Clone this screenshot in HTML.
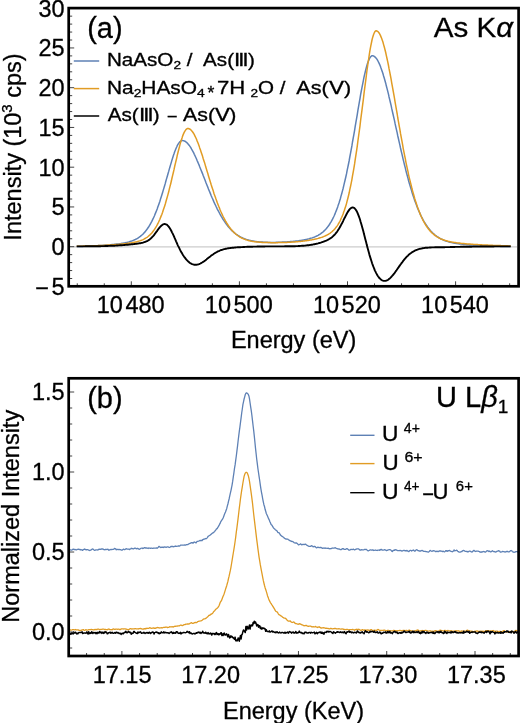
<!DOCTYPE html><html><head><meta charset="utf-8"><style>html,body{margin:0;padding:0;background:#fff;}svg{display:block;}text{font-family:"Liberation Sans",Arial,sans-serif;fill:#000;stroke:#000;stroke-width:0.3px;}</style></head><body>
<svg width="520" height="723" viewBox="0 0 520 723">
<rect width="520" height="723" fill="#fff"/>
<defs><clipPath id="ca"><rect x="68.7" y="8.1" width="449.9" height="278.2"/></clipPath>
<clipPath id="cb"><rect x="68.7" y="378.3" width="449.9" height="277.7"/></clipPath></defs>
<line x1="70" y1="246.8" x2="517" y2="246.8" stroke="#cccccc" stroke-width="1.3"/>
<g clip-path="url(#ca)" fill="none" stroke-width="1.5" stroke-linejoin="round">
<path d="M76.7 246.6L77.4 246.5L78.1 246.5L78.7 246.5L79.4 246.5L80.1 246.5L80.8 246.4L81.4 246.4L82.1 246.4L82.8 246.4L83.5 246.3L84.1 246.3L84.8 246.3L85.5 246.3L86.2 246.2L86.9 246.2L87.5 246.2L88.2 246.1L88.9 246.1L89.6 246.1L90.2 246.1L90.9 246.0L91.6 246.0L92.3 246.0L92.9 245.9L93.6 245.9L94.3 245.9L95.0 245.8L95.6 245.8L96.3 245.7L97.0 245.7L97.7 245.7L98.3 245.6L99.0 245.6L99.7 245.6L100.4 245.5L101.0 245.5L101.7 245.4L102.4 245.4L103.1 245.3L103.8 245.3L104.4 245.2L105.1 245.2L105.8 245.1L106.5 245.1L107.1 245.0L107.8 245.0L108.5 244.9L109.2 244.9L109.8 244.8L110.5 244.7L111.2 244.7L111.9 244.6L112.5 244.6L113.2 244.5L113.9 244.4L114.6 244.3L115.2 244.3L115.9 244.2L116.6 244.1L117.3 244.0L117.9 243.9L118.6 243.9L119.3 243.8L120.0 243.7L120.7 243.6L121.3 243.5L122.0 243.3L122.7 243.2L123.4 243.1L124.0 243.0L124.7 242.9L125.4 242.7L126.1 242.6L126.7 242.4L127.4 242.3L128.1 242.1L128.8 241.9L129.4 241.7L130.1 241.5L130.8 241.3L131.5 241.1L132.1 240.8L132.8 240.6L133.5 240.3L134.2 240.0L134.8 239.7L135.5 239.4L136.2 239.0L136.9 238.7L137.6 238.3L138.2 237.8L138.9 237.4L139.6 236.9L140.3 236.4L140.9 235.9L141.6 235.3L142.3 234.7L143.0 234.1L143.6 233.4L144.3 232.6L145.0 231.9L145.7 231.1L146.3 230.2L147.0 229.3L147.7 228.3L148.4 227.3L149.0 226.3L149.7 225.1L150.4 224.0L151.1 222.7L151.8 221.4L152.4 220.1L153.1 218.7L153.8 217.2L154.5 215.7L155.1 214.1L155.8 212.4L156.5 210.7L157.2 208.9L157.8 207.1L158.5 205.2L159.2 203.2L159.9 201.2L160.5 199.1L161.2 197.0L161.9 194.8L162.6 192.6L163.2 190.4L163.9 188.1L164.6 185.7L165.3 183.4L165.9 181.0L166.6 178.6L167.3 176.2L168.0 173.8L168.7 171.4L169.3 169.1L170.0 166.7L170.7 164.4L171.4 162.1L172.0 159.9L172.7 157.7L173.4 155.6L174.1 153.6L174.7 151.7L175.4 150.0L176.1 148.3L176.8 146.8L177.4 145.4L178.1 144.1L178.8 143.1L179.5 142.2L180.1 141.5L180.8 141.0L181.5 140.7L182.2 140.5L182.8 140.6L183.5 140.7L184.2 140.9L184.9 141.2L185.6 141.7L186.2 142.2L186.9 142.7L187.6 143.4L188.3 144.2L188.9 145.0L189.6 145.9L190.3 146.9L191.0 148.0L191.6 149.2L192.3 150.4L193.0 151.6L193.7 152.9L194.3 154.3L195.0 155.7L195.7 157.2L196.4 158.7L197.0 160.3L197.7 161.9L198.4 163.5L199.1 165.1L199.7 166.8L200.4 168.5L201.1 170.2L201.8 171.9L202.5 173.6L203.1 175.3L203.8 177.1L204.5 178.8L205.2 180.5L205.8 182.3L206.5 184.0L207.2 185.7L207.9 187.4L208.5 189.1L209.2 190.8L209.9 192.4L210.6 194.1L211.2 195.7L211.9 197.3L212.6 198.8L213.3 200.4L213.9 201.9L214.6 203.4L215.3 204.8L216.0 206.3L216.7 207.7L217.3 209.1L218.0 210.4L218.7 211.7L219.4 213.0L220.0 214.2L220.7 215.4L221.4 216.6L222.1 217.7L222.7 218.8L223.4 219.9L224.1 220.9L224.8 221.9L225.4 222.9L226.1 223.8L226.8 224.7L227.5 225.6L228.1 226.5L228.8 227.3L229.5 228.0L230.2 228.8L230.8 229.5L231.5 230.2L232.2 230.9L232.9 231.5L233.6 232.1L234.2 232.7L234.9 233.2L235.6 233.8L236.3 234.3L236.9 234.7L237.6 235.2L238.3 235.6L239.0 236.0L239.6 236.4L240.3 236.8L241.0 237.2L241.7 237.5L242.3 237.8L243.0 238.1L243.7 238.4L244.4 238.7L245.0 238.9L245.7 239.2L246.4 239.4L247.1 239.6L247.7 239.8L248.4 240.0L249.1 240.2L249.8 240.4L250.5 240.5L251.1 240.7L251.8 240.8L252.5 241.0L253.2 241.1L253.8 241.2L254.5 241.3L255.2 241.4L255.9 241.5L256.5 241.6L257.2 241.7L257.9 241.8L258.6 241.8L259.2 241.9L259.9 241.9L260.6 242.0L261.3 242.1L261.9 242.1L262.6 242.1L263.3 242.2L264.0 242.2L264.7 242.2L265.3 242.3L266.0 242.3L266.7 242.3L267.4 242.3L268.0 242.4L268.7 242.4L269.4 242.4L270.1 242.4L270.7 242.4L271.4 242.4L272.1 242.4L272.8 242.4L273.4 242.4L274.1 242.4L274.8 242.4L275.5 242.4L276.1 242.3L276.8 242.3L277.5 242.3L278.2 242.3L278.8 242.3L279.5 242.3L280.2 242.2L280.9 242.2L281.6 242.2L282.2 242.1L282.9 242.1L283.6 242.1L284.3 242.0L284.9 242.0L285.6 242.0L286.3 241.9L287.0 241.9L287.6 241.8L288.3 241.8L289.0 241.7L289.7 241.7L290.3 241.6L291.0 241.6L291.7 241.5L292.4 241.4L293.0 241.4L293.7 241.3L294.4 241.2L295.1 241.2L295.7 241.1L296.4 241.0L297.1 240.9L297.8 240.9L298.5 240.8L299.1 240.7L299.8 240.6L300.5 240.5L301.2 240.4L301.8 240.3L302.5 240.2L303.2 240.0L303.9 239.9L304.5 239.8L305.2 239.7L305.9 239.5L306.6 239.4L307.2 239.2L307.9 239.1L308.6 238.9L309.3 238.7L309.9 238.5L310.6 238.3L311.3 238.1L312.0 237.9L312.6 237.7L313.3 237.4L314.0 237.2L314.7 236.9L315.4 236.6L316.0 236.3L316.7 236.0L317.4 235.7L318.1 235.3L318.7 234.9L319.4 234.5L320.1 234.1L320.8 233.6L321.4 233.1L322.1 232.6L322.8 232.1L323.5 231.5L324.1 230.9L324.8 230.2L325.5 229.5L326.2 228.8L326.8 228.0L327.5 227.1L328.2 226.2L328.9 225.3L329.6 224.3L330.2 223.2L330.9 222.1L331.6 220.9L332.3 219.7L332.9 218.4L333.6 217.0L334.3 215.5L335.0 213.9L335.6 212.3L336.3 210.6L337.0 208.8L337.7 206.9L338.3 204.9L339.0 202.9L339.7 200.7L340.4 198.5L341.0 196.1L341.7 193.7L342.4 191.1L343.1 188.5L343.7 185.8L344.4 182.9L345.1 180.0L345.8 177.0L346.5 173.9L347.1 170.7L347.8 167.4L348.5 164.0L349.2 160.5L349.8 157.0L350.5 153.3L351.2 149.6L351.9 145.9L352.5 142.0L353.2 138.2L353.9 134.3L354.6 130.3L355.2 126.3L355.9 122.3L356.6 118.3L357.3 114.3L357.9 110.3L358.6 106.3L359.3 102.4L360.0 98.5L360.6 94.7L361.3 91.0L362.0 87.3L362.7 83.8L363.4 80.4L364.0 77.2L364.7 74.1L365.4 71.2L366.1 68.5L366.7 66.1L367.4 63.8L368.1 61.8L368.8 60.1L369.4 58.6L370.1 57.5L370.8 56.6L371.5 56.0L372.1 55.7L372.8 55.8L373.5 55.9L374.2 56.3L374.8 56.8L375.5 57.4L376.2 58.2L376.9 59.1L377.5 60.2L378.2 61.5L378.9 62.9L379.6 64.4L380.3 66.0L380.9 67.8L381.6 69.7L382.3 71.7L383.0 73.8L383.6 76.0L384.3 78.3L385.0 80.7L385.7 83.2L386.3 85.8L387.0 88.4L387.7 91.1L388.4 93.9L389.0 96.7L389.7 99.6L390.4 102.5L391.1 105.4L391.7 108.4L392.4 111.5L393.1 114.5L393.8 117.6L394.5 120.6L395.1 123.7L395.8 126.8L396.5 129.9L397.2 132.9L397.8 136.0L398.5 139.0L399.2 142.1L399.9 145.1L400.5 148.0L401.2 151.0L401.9 153.9L402.6 156.8L403.2 159.6L403.9 162.4L404.6 165.2L405.3 167.9L405.9 170.6L406.6 173.2L407.3 175.8L408.0 178.3L408.6 180.8L409.3 183.2L410.0 185.5L410.7 187.8L411.4 190.1L412.0 192.3L412.7 194.4L413.4 196.5L414.1 198.5L414.7 200.4L415.4 202.3L416.1 204.1L416.8 205.9L417.4 207.6L418.1 209.3L418.8 210.9L419.5 212.4L420.1 213.9L420.8 215.4L421.5 216.8L422.2 218.1L422.8 219.4L423.5 220.6L424.2 221.8L424.9 222.9L425.5 224.0L426.2 225.0L426.9 226.0L427.6 227.0L428.3 227.9L428.9 228.8L429.6 229.6L430.3 230.4L431.0 231.2L431.6 231.9L432.3 232.6L433.0 233.2L433.7 233.8L434.3 234.4L435.0 235.0L435.7 235.5L436.4 236.0L437.0 236.5L437.7 237.0L438.4 237.4L439.1 237.8L439.7 238.2L440.4 238.6L441.1 239.0L441.8 239.3L442.5 239.6L443.1 239.9L443.8 240.2L444.5 240.5L445.2 240.7L445.8 241.0L446.5 241.2L447.2 241.4L447.9 241.6L448.5 241.8L449.2 242.0L449.9 242.2L450.6 242.3L451.2 242.5L451.9 242.6L452.6 242.8L453.3 242.9L453.9 243.1L454.6 243.2L455.3 243.3L456.0 243.4L456.6 243.5L457.3 243.6L458.0 243.7L458.7 243.8L459.4 243.9L460.0 244.0L460.7 244.1L461.4 244.1L462.1 244.2L462.7 244.3L463.4 244.4L464.1 244.4L464.8 244.5L465.4 244.6L466.1 244.6L466.8 244.7L467.5 244.7L468.1 244.8L468.8 244.8L469.5 244.9L470.2 244.9L470.8 245.0L471.5 245.0L472.2 245.1L472.9 245.1L473.5 245.2L474.2 245.2L474.9 245.3L475.6 245.3L476.3 245.3L476.9 245.4L477.6 245.4L478.3 245.4L479.0 245.5L479.6 245.5L480.3 245.6L481.0 245.6L481.7 245.6L482.3 245.7L483.0 245.7L483.7 245.7L484.4 245.7L485.0 245.8L485.7 245.8L486.4 245.8L487.1 245.9L487.7 245.9L488.4 245.9L489.1 246.0L489.8 246.0L490.4 246.0L491.1 246.0L491.8 246.1L492.5 246.1L493.2 246.1L493.8 246.1L494.5 246.2L495.2 246.2L495.9 246.2L496.5 246.2L497.2 246.2L497.9 246.3L498.6 246.3L499.2 246.3L499.9 246.3L500.6 246.4L501.3 246.4L501.9 246.4L502.6 246.4L503.3 246.4L504.0 246.5L504.6 246.5L505.3 246.5L506.0 246.5L506.7 246.5L507.4 246.5L508.0 246.6L508.7 246.6L509.4 246.6L510.1 246.6L510.7 246.6" stroke="#5E81B5"/>
<path d="M76.7 246.3L77.4 246.3L78.1 246.3L78.7 246.3L79.4 246.3L80.1 246.2L80.8 246.2L81.4 246.2L82.1 246.2L82.8 246.2L83.5 246.1L84.1 246.1L84.8 246.1L85.5 246.1L86.2 246.1L86.9 246.0L87.5 246.0L88.2 246.0L88.9 246.0L89.6 246.0L90.2 245.9L90.9 245.9L91.6 245.9L92.3 245.9L92.9 245.8L93.6 245.8L94.3 245.8L95.0 245.8L95.6 245.7L96.3 245.7L97.0 245.7L97.7 245.7L98.3 245.6L99.0 245.6L99.7 245.6L100.4 245.5L101.0 245.5L101.7 245.5L102.4 245.4L103.1 245.4L103.8 245.4L104.4 245.3L105.1 245.3L105.8 245.3L106.5 245.2L107.1 245.2L107.8 245.1L108.5 245.1L109.2 245.1L109.8 245.0L110.5 245.0L111.2 244.9L111.9 244.9L112.5 244.8L113.2 244.8L113.9 244.8L114.6 244.7L115.2 244.6L115.9 244.6L116.6 244.5L117.3 244.5L117.9 244.4L118.6 244.4L119.3 244.3L120.0 244.3L120.7 244.2L121.3 244.1L122.0 244.1L122.7 244.0L123.4 243.9L124.0 243.8L124.7 243.8L125.4 243.7L126.1 243.6L126.7 243.5L127.4 243.4L128.1 243.3L128.8 243.2L129.4 243.1L130.1 243.0L130.8 242.9L131.5 242.8L132.1 242.7L132.8 242.6L133.5 242.5L134.2 242.3L134.8 242.2L135.5 242.0L136.2 241.9L136.9 241.7L137.6 241.5L138.2 241.3L138.9 241.1L139.6 240.9L140.3 240.7L140.9 240.4L141.6 240.2L142.3 239.9L143.0 239.6L143.6 239.3L144.3 238.9L145.0 238.5L145.7 238.1L146.3 237.7L147.0 237.3L147.7 236.8L148.4 236.2L149.0 235.7L149.7 235.1L150.4 234.4L151.1 233.7L151.8 233.0L152.4 232.2L153.1 231.3L153.8 230.4L154.5 229.5L155.1 228.4L155.8 227.3L156.5 226.2L157.2 224.9L157.8 223.6L158.5 222.3L159.2 220.8L159.9 219.3L160.5 217.6L161.2 215.9L161.9 214.2L162.6 212.3L163.2 210.3L163.9 208.3L164.6 206.2L165.3 204.0L165.9 201.7L166.6 199.3L167.3 196.9L168.0 194.4L168.7 191.8L169.3 189.1L170.0 186.4L170.7 183.7L171.4 180.8L172.0 178.0L172.7 175.1L173.4 172.2L174.1 169.2L174.7 166.3L175.4 163.4L176.1 160.5L176.8 157.6L177.4 154.7L178.1 152.0L178.8 149.3L179.5 146.6L180.1 144.1L180.8 141.8L181.5 139.5L182.2 137.5L182.8 135.6L183.5 133.9L184.2 132.4L184.9 131.1L185.6 130.1L186.2 129.3L186.9 128.8L187.6 128.5L188.3 128.5L188.9 128.7L189.6 129.0L190.3 129.4L191.0 130.0L191.6 130.7L192.3 131.5L193.0 132.5L193.7 133.5L194.3 134.7L195.0 136.1L195.7 137.5L196.4 139.0L197.0 140.6L197.7 142.3L198.4 144.1L199.1 145.9L199.7 147.9L200.4 149.8L201.1 151.9L201.8 154.0L202.5 156.1L203.1 158.2L203.8 160.4L204.5 162.6L205.2 164.9L205.8 167.1L206.5 169.3L207.2 171.6L207.9 173.8L208.5 176.1L209.2 178.3L209.9 180.5L210.6 182.7L211.2 184.8L211.9 187.0L212.6 189.1L213.3 191.1L213.9 193.2L214.6 195.2L215.3 197.1L216.0 199.1L216.7 200.9L217.3 202.8L218.0 204.5L218.7 206.3L219.4 207.9L220.0 209.6L220.7 211.2L221.4 212.7L222.1 214.2L222.7 215.6L223.4 217.0L224.1 218.3L224.8 219.6L225.4 220.8L226.1 222.0L226.8 223.2L227.5 224.2L228.1 225.3L228.8 226.3L229.5 227.2L230.2 228.1L230.8 229.0L231.5 229.8L232.2 230.6L232.9 231.3L233.6 232.0L234.2 232.7L234.9 233.3L235.6 233.9L236.3 234.5L236.9 235.0L237.6 235.5L238.3 236.0L239.0 236.5L239.6 236.9L240.3 237.3L241.0 237.6L241.7 238.0L242.3 238.3L243.0 238.6L243.7 238.9L244.4 239.2L245.0 239.4L245.7 239.7L246.4 239.9L247.1 240.1L247.7 240.3L248.4 240.5L249.1 240.7L249.8 240.8L250.5 241.0L251.1 241.1L251.8 241.2L252.5 241.4L253.2 241.5L253.8 241.6L254.5 241.7L255.2 241.8L255.9 241.8L256.5 241.9L257.2 242.0L257.9 242.1L258.6 242.1L259.2 242.2L259.9 242.2L260.6 242.3L261.3 242.3L261.9 242.4L262.6 242.4L263.3 242.4L264.0 242.5L264.7 242.5L265.3 242.5L266.0 242.6L266.7 242.6L267.4 242.6L268.0 242.6L268.7 242.6L269.4 242.6L270.1 242.6L270.7 242.7L271.4 242.7L272.1 242.7L272.8 242.7L273.4 242.7L274.1 242.7L274.8 242.7L275.5 242.7L276.1 242.7L276.8 242.7L277.5 242.7L278.2 242.6L278.8 242.6L279.5 242.6L280.2 242.6L280.9 242.6L281.6 242.6L282.2 242.5L282.9 242.5L283.6 242.5L284.3 242.5L284.9 242.5L285.6 242.4L286.3 242.4L287.0 242.4L287.6 242.3L288.3 242.3L289.0 242.3L289.7 242.2L290.3 242.2L291.0 242.2L291.7 242.1L292.4 242.1L293.0 242.0L293.7 242.0L294.4 241.9L295.1 241.9L295.7 241.8L296.4 241.8L297.1 241.7L297.8 241.7L298.5 241.6L299.1 241.5L299.8 241.5L300.5 241.4L301.2 241.3L301.8 241.2L302.5 241.2L303.2 241.1L303.9 241.0L304.5 240.9L305.2 240.8L305.9 240.7L306.6 240.7L307.2 240.6L307.9 240.5L308.6 240.4L309.3 240.2L309.9 240.1L310.6 240.0L311.3 239.9L312.0 239.8L312.6 239.6L313.3 239.5L314.0 239.4L314.7 239.2L315.4 239.1L316.0 238.9L316.7 238.8L317.4 238.6L318.1 238.4L318.7 238.2L319.4 238.0L320.1 237.8L320.8 237.6L321.4 237.4L322.1 237.2L322.8 236.9L323.5 236.7L324.1 236.4L324.8 236.1L325.5 235.8L326.2 235.5L326.8 235.1L327.5 234.8L328.2 234.4L328.9 234.0L329.6 233.5L330.2 233.1L330.9 232.5L331.6 232.0L332.3 231.4L332.9 230.8L333.6 230.2L334.3 229.4L335.0 228.7L335.6 227.9L336.3 227.0L337.0 226.1L337.7 225.1L338.3 224.0L339.0 222.8L339.7 221.6L340.4 220.3L341.0 218.8L341.7 217.3L342.4 215.7L343.1 214.0L343.7 212.1L344.4 210.2L345.1 208.1L345.8 205.9L346.5 203.6L347.1 201.1L347.8 198.5L348.5 195.7L349.2 192.8L349.8 189.7L350.5 186.5L351.2 183.1L351.9 179.6L352.5 175.9L353.2 172.1L353.9 168.1L354.6 163.9L355.2 159.6L355.9 155.2L356.6 150.6L357.3 145.9L357.9 141.0L358.6 136.0L359.3 131.0L360.0 125.8L360.6 120.5L361.3 115.2L362.0 109.8L362.7 104.4L363.4 99.0L364.0 93.6L364.7 88.2L365.4 82.9L366.1 77.6L366.7 72.5L367.4 67.5L368.1 62.7L368.8 58.1L369.4 53.8L370.1 49.7L370.8 45.9L371.5 42.5L372.1 39.5L372.8 36.9L373.5 34.7L374.2 33.0L374.8 31.8L375.5 31.0L376.2 30.8L376.9 31.0L377.5 31.3L378.2 31.9L378.9 32.8L379.6 33.8L380.3 35.1L380.9 36.6L381.6 38.3L382.3 40.2L383.0 42.3L383.6 44.6L384.3 47.0L385.0 49.7L385.7 52.5L386.3 55.4L387.0 58.5L387.7 61.6L388.4 65.0L389.0 68.4L389.7 71.9L390.4 75.5L391.1 79.1L391.7 82.9L392.4 86.7L393.1 90.5L393.8 94.4L394.5 98.3L395.1 102.2L395.8 106.2L396.5 110.1L397.2 114.0L397.8 118.0L398.5 121.9L399.2 125.8L399.9 129.6L400.5 133.4L401.2 137.2L401.9 140.9L402.6 144.6L403.2 148.3L403.9 151.8L404.6 155.3L405.3 158.7L405.9 162.1L406.6 165.4L407.3 168.6L408.0 171.7L408.6 174.8L409.3 177.8L410.0 180.6L410.7 183.4L411.4 186.2L412.0 188.8L412.7 191.4L413.4 193.8L414.1 196.2L414.7 198.5L415.4 200.7L416.1 202.8L416.8 204.9L417.4 206.8L418.1 208.7L418.8 210.5L419.5 212.3L420.1 213.9L420.8 215.5L421.5 217.0L422.2 218.5L422.8 219.8L423.5 221.2L424.2 222.4L424.9 223.6L425.5 224.7L426.2 225.8L426.9 226.8L427.6 227.8L428.3 228.7L428.9 229.5L429.6 230.4L430.3 231.1L431.0 231.9L431.6 232.5L432.3 233.2L433.0 233.8L433.7 234.4L434.3 234.9L435.0 235.5L435.7 235.9L436.4 236.4L437.0 236.8L437.7 237.2L438.4 237.6L439.1 238.0L439.7 238.3L440.4 238.7L441.1 239.0L441.8 239.2L442.5 239.5L443.1 239.8L443.8 240.0L444.5 240.2L445.2 240.4L445.8 240.6L446.5 240.8L447.2 241.0L447.9 241.2L448.5 241.4L449.2 241.5L449.9 241.7L450.6 241.8L451.2 241.9L451.9 242.1L452.6 242.2L453.3 242.3L453.9 242.4L454.6 242.5L455.3 242.6L456.0 242.7L456.6 242.8L457.3 242.9L458.0 243.0L458.7 243.1L459.4 243.1L460.0 243.2L460.7 243.3L461.4 243.4L462.1 243.4L462.7 243.5L463.4 243.6L464.1 243.6L464.8 243.7L465.4 243.7L466.1 243.8L466.8 243.9L467.5 243.9L468.1 244.0L468.8 244.0L469.5 244.1L470.2 244.1L470.8 244.2L471.5 244.2L472.2 244.3L472.9 244.3L473.5 244.4L474.2 244.4L474.9 244.5L475.6 244.5L476.3 244.5L476.9 244.6L477.6 244.6L478.3 244.7L479.0 244.7L479.6 244.7L480.3 244.8L481.0 244.8L481.7 244.8L482.3 244.9L483.0 244.9L483.7 245.0L484.4 245.0L485.0 245.0L485.7 245.0L486.4 245.1L487.1 245.1L487.7 245.1L488.4 245.2L489.1 245.2L489.8 245.2L490.4 245.3L491.1 245.3L491.8 245.3L492.5 245.3L493.2 245.4L493.8 245.4L494.5 245.4L495.2 245.4L495.9 245.5L496.5 245.5L497.2 245.5L497.9 245.5L498.6 245.6L499.2 245.6L499.9 245.6L500.6 245.6L501.3 245.7L501.9 245.7L502.6 245.7L503.3 245.7L504.0 245.7L504.6 245.8L505.3 245.8L506.0 245.8L506.7 245.8L507.4 245.8L508.0 245.9L508.7 245.9L509.4 245.9L510.1 245.9L510.7 245.9" stroke="#E19C24"/>
<path d="M76.7 246.4L77.4 246.4L78.1 246.4L78.7 246.4L79.4 246.4L80.1 246.4L80.8 246.4L81.4 246.4L82.1 246.4L82.8 246.4L83.5 246.4L84.1 246.4L84.8 246.4L85.5 246.3L86.2 246.3L86.9 246.3L87.5 246.3L88.2 246.3L88.9 246.3L89.6 246.3L90.2 246.3L90.9 246.3L91.6 246.3L92.3 246.3L92.9 246.3L93.6 246.3L94.3 246.3L95.0 246.3L95.6 246.2L96.3 246.2L97.0 246.2L97.7 246.2L98.3 246.2L99.0 246.2L99.7 246.2L100.4 246.2L101.0 246.1L101.7 246.1L102.4 246.1L103.1 246.1L103.8 246.1L104.4 246.1L105.1 246.0L105.8 246.0L106.5 246.0L107.1 246.0L107.8 246.0L108.5 245.9L109.2 245.9L109.8 245.9L110.5 245.8L111.2 245.8L111.9 245.8L112.5 245.8L113.2 245.7L113.9 245.7L114.6 245.7L115.2 245.6L115.9 245.6L116.6 245.5L117.3 245.5L117.9 245.5L118.6 245.4L119.3 245.4L120.0 245.3L120.7 245.3L121.3 245.2L122.0 245.2L122.7 245.1L123.4 245.1L124.0 245.0L124.7 245.0L125.4 244.9L126.1 244.8L126.7 244.8L127.4 244.7L128.1 244.7L128.8 244.6L129.4 244.5L130.1 244.5L130.8 244.4L131.5 244.3L132.1 244.3L132.8 244.2L133.5 244.1L134.2 244.0L134.8 244.0L135.5 243.9L136.2 243.8L136.9 243.7L137.6 243.6L138.2 243.5L138.9 243.4L139.6 243.3L140.3 243.2L140.9 243.1L141.6 242.9L142.3 242.8L143.0 242.6L143.6 242.4L144.3 242.2L145.0 242.0L145.7 241.7L146.3 241.4L147.0 241.1L147.7 240.8L148.4 240.3L149.0 239.9L149.7 239.4L150.4 238.8L151.1 238.2L151.8 237.5L152.4 236.8L153.1 236.1L153.8 235.3L154.5 234.4L155.1 233.5L155.8 232.6L156.5 231.7L157.2 230.8L157.8 229.8L158.5 228.9L159.2 228.0L159.9 227.2L160.5 226.5L161.2 225.8L161.9 225.2L162.6 224.7L163.2 224.3L163.9 224.1L164.6 224.0L165.3 224.1L165.9 224.3L166.6 224.6L167.3 225.1L168.0 225.8L168.7 226.6L169.3 227.5L170.0 228.6L170.7 229.7L171.4 231.0L172.0 232.3L172.7 233.7L173.4 235.2L174.1 236.7L174.7 238.2L175.4 239.7L176.1 241.3L176.8 242.8L177.4 244.3L178.1 245.8L178.8 247.2L179.5 248.6L180.1 249.9L180.8 251.2L181.5 252.4L182.2 253.6L182.8 254.7L183.5 255.8L184.2 256.8L184.9 257.7L185.6 258.6L186.2 259.4L186.9 260.2L187.6 260.9L188.3 261.6L188.9 262.1L189.6 262.7L190.3 263.1L191.0 263.5L191.6 263.9L192.3 264.2L193.0 264.4L193.7 264.6L194.3 264.7L195.0 264.8L195.7 264.8L196.4 264.7L197.0 264.6L197.7 264.5L198.4 264.3L199.1 264.1L199.7 263.8L200.4 263.5L201.1 263.1L201.8 262.7L202.5 262.3L203.1 261.9L203.8 261.4L204.5 260.9L205.2 260.4L205.8 259.9L206.5 259.4L207.2 258.8L207.9 258.3L208.5 257.7L209.2 257.2L209.9 256.7L210.6 256.2L211.2 255.6L211.9 255.1L212.6 254.7L213.3 254.2L213.9 253.7L214.6 253.3L215.3 252.9L216.0 252.5L216.7 252.1L217.3 251.7L218.0 251.4L218.7 251.1L219.4 250.8L220.0 250.5L220.7 250.2L221.4 250.0L222.1 249.8L222.7 249.6L223.4 249.4L224.1 249.2L224.8 249.0L225.4 248.8L226.1 248.7L226.8 248.6L227.5 248.4L228.1 248.3L228.8 248.2L229.5 248.1L230.2 248.0L230.8 248.0L231.5 247.9L232.2 247.8L232.9 247.7L233.6 247.7L234.2 247.6L234.9 247.5L235.6 247.5L236.3 247.4L236.9 247.4L237.6 247.3L238.3 247.3L239.0 247.3L239.6 247.2L240.3 247.2L241.0 247.1L241.7 247.1L242.3 247.1L243.0 247.0L243.7 247.0L244.4 247.0L245.0 246.9L245.7 246.9L246.4 246.9L247.1 246.8L247.7 246.8L248.4 246.8L249.1 246.8L249.8 246.7L250.5 246.7L251.1 246.7L251.8 246.7L252.5 246.7L253.2 246.6L253.8 246.6L254.5 246.6L255.2 246.6L255.9 246.6L256.5 246.6L257.2 246.5L257.9 246.5L258.6 246.5L259.2 246.5L259.9 246.5L260.6 246.5L261.3 246.5L261.9 246.5L262.6 246.5L263.3 246.5L264.0 246.5L264.7 246.5L265.3 246.4L266.0 246.4L266.7 246.4L267.4 246.4L268.0 246.4L268.7 246.4L269.4 246.4L270.1 246.4L270.7 246.4L271.4 246.4L272.1 246.4L272.8 246.4L273.4 246.4L274.1 246.4L274.8 246.4L275.5 246.4L276.1 246.4L276.8 246.4L277.5 246.4L278.2 246.4L278.8 246.4L279.5 246.4L280.2 246.4L280.9 246.4L281.6 246.4L282.2 246.4L282.9 246.4L283.6 246.4L284.3 246.4L284.9 246.3L285.6 246.3L286.3 246.3L287.0 246.3L287.6 246.3L288.3 246.3L289.0 246.3L289.7 246.3L290.3 246.3L291.0 246.3L291.7 246.3L292.4 246.2L293.0 246.2L293.7 246.2L294.4 246.2L295.1 246.2L295.7 246.1L296.4 246.1L297.1 246.1L297.8 246.1L298.5 246.0L299.1 246.0L299.8 246.0L300.5 245.9L301.2 245.9L301.8 245.8L302.5 245.8L303.2 245.7L303.9 245.7L304.5 245.6L305.2 245.6L305.9 245.5L306.6 245.4L307.2 245.3L307.9 245.3L308.6 245.2L309.3 245.1L309.9 245.0L310.6 244.9L311.3 244.8L312.0 244.7L312.6 244.6L313.3 244.4L314.0 244.3L314.7 244.2L315.4 244.0L316.0 243.9L316.7 243.7L317.4 243.6L318.1 243.4L318.7 243.2L319.4 243.0L320.1 242.8L320.8 242.6L321.4 242.4L322.1 242.2L322.8 242.0L323.5 241.7L324.1 241.5L324.8 241.2L325.5 240.9L326.2 240.6L326.8 240.3L327.5 240.0L328.2 239.6L328.9 239.2L329.6 238.8L330.2 238.4L330.9 237.9L331.6 237.4L332.3 236.9L332.9 236.3L333.6 235.7L334.3 235.0L335.0 234.3L335.6 233.5L336.3 232.7L337.0 231.8L337.7 230.8L338.3 229.8L339.0 228.7L339.7 227.5L340.4 226.3L341.0 225.1L341.7 223.8L342.4 222.5L343.1 221.1L343.7 219.7L344.4 218.3L345.1 217.0L345.8 215.6L346.5 214.3L347.1 213.1L347.8 211.9L348.5 210.9L349.2 209.9L349.8 209.1L350.5 208.4L351.2 207.9L351.9 207.6L352.5 207.5L353.2 207.5L353.9 207.8L354.6 208.3L355.2 209.0L355.9 209.9L356.6 211.0L357.3 212.4L357.9 213.9L358.6 215.6L359.3 217.5L360.0 219.5L360.6 221.7L361.3 224.0L362.0 226.4L362.7 228.9L363.4 231.5L364.0 234.1L364.7 236.7L365.4 239.4L366.1 242.0L366.7 244.6L367.4 247.2L368.1 249.7L368.8 252.2L369.4 254.6L370.1 256.9L370.8 259.1L371.5 261.2L372.1 263.2L372.8 265.2L373.5 267.0L374.2 268.7L374.8 270.3L375.5 271.7L376.2 273.1L376.9 274.4L377.5 275.5L378.2 276.5L378.9 277.4L379.6 278.3L380.3 278.9L380.9 279.5L381.6 280.0L382.3 280.4L383.0 280.7L383.6 280.9L384.3 280.9L385.0 280.9L385.7 280.8L386.3 280.6L387.0 280.3L387.7 280.0L388.4 279.6L389.0 279.1L389.7 278.5L390.4 277.9L391.1 277.2L391.7 276.4L392.4 275.7L393.1 274.8L393.8 274.0L394.5 273.1L395.1 272.2L395.8 271.2L396.5 270.3L397.2 269.3L397.8 268.3L398.5 267.4L399.2 266.4L399.9 265.4L400.5 264.5L401.2 263.6L401.9 262.6L402.6 261.8L403.2 260.9L403.9 260.0L404.6 259.2L405.3 258.4L405.9 257.7L406.6 256.9L407.3 256.2L408.0 255.6L408.6 254.9L409.3 254.3L410.0 253.8L410.7 253.3L411.4 252.8L412.0 252.3L412.7 251.9L413.4 251.4L414.1 251.1L414.7 250.7L415.4 250.4L416.1 250.1L416.8 249.8L417.4 249.6L418.1 249.3L418.8 249.1L419.5 248.9L420.1 248.8L420.8 248.6L421.5 248.5L422.2 248.3L422.8 248.2L423.5 248.1L424.2 248.0L424.9 247.9L425.5 247.8L426.2 247.8L426.9 247.7L427.6 247.7L428.3 247.6L428.9 247.6L429.6 247.5L430.3 247.5L431.0 247.5L431.6 247.4L432.3 247.4L433.0 247.4L433.7 247.4L434.3 247.4L435.0 247.3L435.7 247.3L436.4 247.3L437.0 247.3L437.7 247.3L438.4 247.3L439.1 247.3L439.7 247.2L440.4 247.2L441.1 247.2L441.8 247.2L442.5 247.2L443.1 247.2L443.8 247.2L444.5 247.2L445.2 247.1L445.8 247.1L446.5 247.1L447.2 247.1L447.9 247.1L448.5 247.1L449.2 247.1L449.9 247.1L450.6 247.0L451.2 247.0L451.9 247.0L452.6 247.0L453.3 247.0L453.9 247.0L454.6 247.0L455.3 246.9L456.0 246.9L456.6 246.9L457.3 246.9L458.0 246.9L458.7 246.9L459.4 246.9L460.0 246.9L460.7 246.8L461.4 246.8L462.1 246.8L462.7 246.8L463.4 246.8L464.1 246.8L464.8 246.8L465.4 246.8L466.1 246.7L466.8 246.7L467.5 246.7L468.1 246.7L468.8 246.7L469.5 246.7L470.2 246.7L470.8 246.7L471.5 246.7L472.2 246.6L472.9 246.6L473.5 246.6L474.2 246.6L474.9 246.6L475.6 246.6L476.3 246.6L476.9 246.6L477.6 246.6L478.3 246.6L479.0 246.6L479.6 246.6L480.3 246.5L481.0 246.5L481.7 246.5L482.3 246.5L483.0 246.5L483.7 246.5L484.4 246.5L485.0 246.5L485.7 246.5L486.4 246.5L487.1 246.5L487.7 246.5L488.4 246.5L489.1 246.5L489.8 246.5L490.4 246.5L491.1 246.5L491.8 246.5L492.5 246.5L493.2 246.5L493.8 246.5L494.5 246.4L495.2 246.4L495.9 246.4L496.5 246.4L497.2 246.4L497.9 246.4L498.6 246.4L499.2 246.4L499.9 246.4L500.6 246.4L501.3 246.4L501.9 246.4L502.6 246.4L503.3 246.4L504.0 246.4L504.6 246.4L505.3 246.4L506.0 246.4L506.7 246.4L507.4 246.4L508.0 246.4L508.7 246.4L509.4 246.4L510.1 246.4L510.7 246.4" stroke="#000" stroke-width="1.9"/>
</g>
<path d="M68.7 286.45H74.2M68.7 278.50H72.2M68.7 270.55H72.2M68.7 262.60H72.2M68.7 254.65H72.2M68.7 246.70H74.2M68.7 238.75H72.2M68.7 230.80H72.2M68.7 222.85H72.2M68.7 214.90H72.2M68.7 206.95H74.2M68.7 199.00H72.2M68.7 191.05H72.2M68.7 183.10H72.2M68.7 175.15H72.2M68.7 167.20H74.2M68.7 159.25H72.2M68.7 151.30H72.2M68.7 143.35H72.2M68.7 135.40H72.2M68.7 127.45H74.2M68.7 119.50H72.2M68.7 111.55H72.2M68.7 103.60H72.2M68.7 95.65H72.2M68.7 87.70H74.2M68.7 79.75H72.2M68.7 71.80H72.2M68.7 63.85H72.2M68.7 55.90H72.2M68.7 47.95H74.2M68.7 40.00H72.2M68.7 32.05H72.2M68.7 24.10H72.2M68.7 16.15H72.2M68.7 8.20H74.2M77.25 286.3V283.3M104.28 286.3V283.3M131.30 286.3V281.3M158.33 286.3V283.3M185.35 286.3V283.3M212.38 286.3V283.3M239.40 286.3V281.3M266.43 286.3V283.3M293.45 286.3V283.3M320.48 286.3V283.3M347.50 286.3V281.3M374.53 286.3V283.3M401.55 286.3V283.3M428.58 286.3V283.3M455.60 286.3V281.3M482.62 286.3V283.3M509.65 286.3V283.3" stroke="#444" stroke-width="1" fill="none"/>
<rect x="68.70" y="8.10" width="449.90" height="278.20" fill="none" stroke="#000" stroke-width="2.70"/>
<text x="64.6" y="294.8" font-size="23.5" text-anchor="end"><tspan dy="1.2">−</tspan><tspan dx="2.6" dy="-1.2">5</tspan></text>
<text x="64.6" y="255.1" font-size="23.5" text-anchor="end">0</text>
<text x="64.6" y="215.3" font-size="23.5" text-anchor="end">5</text>
<text x="64.6" y="175.6" font-size="23.5" text-anchor="end">10</text>
<text x="64.6" y="135.8" font-size="23.5" text-anchor="end">15</text>
<text x="64.6" y="96.1" font-size="23.5" text-anchor="end">20</text>
<text x="64.6" y="56.3" font-size="23.5" text-anchor="end">25</text>
<text x="64.6" y="16.6" font-size="23.5" text-anchor="end">30</text>
<text x="130.7" y="312.8" font-size="23.5" text-anchor="middle">10<tspan dx="2.5">480</tspan></text>
<text x="238.8" y="312.8" font-size="23.5" text-anchor="middle">10<tspan dx="2.5">500</tspan></text>
<text x="346.9" y="312.8" font-size="23.5" text-anchor="middle">10<tspan dx="2.5">520</tspan></text>
<text x="455.0" y="312.8" font-size="23.5" text-anchor="middle">10<tspan dx="2.5">540</tspan></text>
<text x="293.6" y="348.1" font-size="23.5" text-anchor="middle">Energy (eV)</text>
<text transform="translate(21.3,147) rotate(-90)" font-size="23.5" text-anchor="middle">Intensity (10<tspan font-size="15" dy="-9">3</tspan><tspan dy="9"> cps)</tspan></text>
<text transform="translate(87.19,38.00) scale(1.006,1)" font-size="28.8">(a)</text>
<text transform="translate(433.80,36.90) scale(1.038,1)" font-size="28.5">As K<tspan font-style="italic">α</tspan></text>
<line x1="73.8" y1="61.0" x2="99.2" y2="61.0" stroke="#5E81B5" stroke-width="1.5"/>
<line x1="73.8" y1="88.6" x2="99.2" y2="88.6" stroke="#E19C24" stroke-width="1.5"/>
<line x1="73.8" y1="116.0" x2="99.2" y2="116.0" stroke="#000" stroke-width="1.5"/>
<text transform="translate(106.92,66.10) scale(1.179,1)" font-size="17.5">NaAsO<tspan font-size="11.6" dy="2.9">2</tspan><tspan dy="-2.9"> /</tspan></text>
<text transform="translate(203.10,66.10) scale(1.177,1)" font-size="17.5">As(Ⅲ)</text>
<text transform="translate(106.91,94.00) scale(1.194,1)" font-size="17.5">Na<tspan font-size="11.6" dy="2.9">2</tspan><tspan dy="-2.9">HAsO</tspan><tspan font-size="11.6" dy="2.9">4</tspan></text>
<text transform="translate(207.50,98.90) scale(0.929,1)" font-size="19">*</text>
<text transform="translate(217.04,94.00) scale(1.265,1)" font-size="17.5">7H</text>
<text transform="translate(250.52,94.00) scale(1.176,1)" font-size="17.5"><tspan font-size="11.6" dy="2.9">2</tspan><tspan dy="-2.9">O /</tspan></text>
<text transform="translate(296.30,94.00) scale(1.230,1)" font-size="17.5">As(Ⅴ)</text>
<text transform="translate(107.70,121.20) scale(1.181,1)" font-size="17.5">As(Ⅲ)</text>
<text transform="translate(167.70,121.20) scale(0.920,1)" font-size="17.5">–</text>
<text transform="translate(183.10,121.20) scale(1.216,1)" font-size="17.5">As(Ⅴ)</text>
<g clip-path="url(#cb)" fill="none" stroke-width="1.3" stroke-linejoin="round">
<path d="M69.5 549.8L70.1 549.8L70.7 549.8L71.3 550.1L71.9 550.1L72.5 549.5L73.1 549.2L73.7 549.2L74.3 549.6L74.9 549.4L75.5 549.6L76.1 549.8L76.7 549.8L77.3 549.4L77.9 549.3L78.5 549.2L79.1 549.4L79.7 549.4L80.3 549.9L80.9 549.4L81.5 549.9L82.1 549.9L82.7 550.4L83.3 549.7L83.9 549.4L84.5 549.0L85.1 549.5L85.7 549.5L86.3 549.9L86.9 549.6L87.5 549.7L88.1 549.8L88.7 550.2L89.3 550.4L89.9 550.5L90.5 550.2L91.1 550.0L91.7 549.5L92.3 549.0L92.9 549.1L93.5 549.6L94.1 550.1L94.7 550.3L95.3 550.2L95.9 549.9L96.5 549.8L97.1 550.0L97.7 549.9L98.3 549.8L98.9 549.2L99.5 549.4L100.1 549.2L100.7 549.3L101.3 549.0L101.9 549.0L102.5 548.9L103.1 549.1L103.7 549.6L104.3 549.7L104.9 549.8L105.5 549.4L106.1 549.7L106.7 549.3L107.3 549.3L107.9 549.2L108.5 550.0L109.1 550.1L109.7 549.8L110.3 549.6L110.9 549.5L111.5 549.6L112.1 549.3L112.7 549.5L113.3 549.3L113.9 549.2L114.5 548.4L115.1 548.6L115.7 549.0L116.3 549.8L116.9 549.3L117.5 549.5L118.1 549.4L118.7 549.6L119.3 549.5L119.9 549.6L120.5 549.7L121.1 550.0L121.7 550.1L122.3 550.1L122.9 549.5L123.5 549.2L124.1 549.5L124.7 549.6L125.3 549.4L125.9 548.8L126.5 548.7L127.1 549.1L127.7 549.1L128.3 549.2L128.9 549.2L129.5 549.6L130.1 549.1L130.7 548.7L131.3 548.2L131.9 548.7L132.5 548.5L133.1 548.9L133.7 548.8L134.3 548.4L134.9 548.1L135.5 548.1L136.1 548.7L136.7 548.8L137.3 548.4L137.9 548.5L138.5 548.9L139.1 549.3L139.7 549.1L140.3 548.7L140.9 548.3L141.5 548.2L142.1 548.0L142.7 548.5L143.3 548.4L143.9 548.0L144.5 547.6L145.1 547.7L145.7 548.1L146.3 547.9L146.9 548.1L147.5 548.2L148.1 548.5L148.7 548.0L149.3 548.1L149.9 548.1L150.5 548.3L151.1 548.1L151.7 548.2L152.3 548.4L152.9 548.4L153.5 548.1L154.1 548.1L154.7 548.1L155.3 548.1L155.9 548.1L156.5 547.9L157.1 548.3L157.7 547.8L158.3 547.2L158.9 546.4L159.5 546.7L160.1 547.1L160.7 547.5L161.3 547.4L161.9 547.1L162.5 547.4L163.1 547.2L163.7 547.5L164.3 546.8L164.9 547.0L165.5 547.1L166.1 547.3L166.7 547.1L167.3 546.9L167.9 546.8L168.5 547.0L169.1 547.5L169.7 547.3L170.3 547.0L170.9 546.4L171.5 546.5L172.1 546.4L172.7 546.5L173.3 546.6L173.9 546.8L174.5 546.3L175.1 546.4L175.7 546.0L176.3 546.4L176.9 546.3L177.5 546.2L178.1 546.0L178.7 545.9L179.3 546.2L179.9 545.9L180.5 545.2L181.1 545.1L181.7 545.2L182.3 545.2L182.9 545.1L183.5 545.1L184.1 545.1L184.7 545.0L185.3 545.1L185.9 545.0L186.5 544.7L187.1 544.6L187.7 544.6L188.3 544.2L188.9 543.9L189.5 543.5L190.1 543.3L190.7 543.1L191.3 542.6L191.9 542.9L192.5 542.7L193.1 543.2L193.7 542.4L194.3 542.0L194.9 542.2L195.5 542.7L196.1 542.8L196.7 541.9L197.3 541.3L197.9 541.3L198.5 541.2L199.1 541.0L199.7 540.7L200.3 540.4L200.9 540.8L201.5 540.4L202.1 540.6L202.7 539.6L203.3 539.5L203.9 539.2L204.5 539.0L205.1 538.9L205.7 538.5L206.3 538.7L206.9 538.1L207.5 537.4L208.1 536.4L208.7 536.0L209.3 535.5L209.9 535.3L210.5 534.8L211.1 534.4L211.7 533.7L212.3 533.2L212.9 532.9L213.5 532.6L214.1 531.9L214.7 531.4L215.3 530.5L215.9 529.9L216.5 528.9L217.1 528.6L217.7 527.6L218.3 526.7L218.9 525.7L219.5 524.4L220.1 523.4L220.7 521.8L221.3 520.9L221.9 520.0L222.5 519.2L223.1 518.0L223.7 516.4L224.3 514.7L224.9 513.3L225.5 512.0L226.1 510.2L226.7 508.7L227.3 506.1L227.9 504.0L228.5 501.3L229.1 499.0L229.7 496.1L230.3 493.4L230.9 490.8L231.5 488.0L232.1 484.8L232.7 481.2L233.3 476.9L233.9 472.8L234.5 468.4L235.1 464.9L235.7 460.3L236.3 456.0L236.9 451.1L237.5 446.3L238.1 441.0L238.7 436.1L239.3 431.4L239.9 427.2L240.5 422.4L241.1 417.8L241.7 413.0L242.3 409.0L242.9 404.7L243.5 401.9L244.1 399.0L244.7 396.8L245.3 394.5L245.9 393.3L246.5 392.9L247.1 393.2L247.7 393.7L248.3 394.4L248.9 395.9L249.5 398.9L250.1 403.0L250.7 407.2L251.3 410.9L251.9 415.5L252.5 420.6L253.1 425.8L253.7 430.7L254.3 436.1L254.9 442.0L255.5 448.1L256.1 453.5L256.7 459.0L257.3 463.6L257.9 468.5L258.5 472.5L259.1 476.7L259.7 480.5L260.3 484.8L260.9 488.8L261.5 492.3L262.1 495.4L262.7 498.8L263.3 501.9L263.9 504.7L264.5 506.5L265.1 509.3L265.7 511.2L266.3 513.5L266.9 514.8L267.5 516.1L268.1 517.5L268.7 518.9L269.3 520.0L269.9 521.8L270.5 522.9L271.1 524.4L271.7 524.9L272.3 525.8L272.9 526.8L273.5 527.8L274.1 528.5L274.7 529.0L275.3 529.7L275.9 530.1L276.5 530.3L277.1 531.2L277.7 532.2L278.3 532.7L278.9 532.7L279.5 533.3L280.1 534.5L280.7 535.3L281.3 535.8L281.9 536.4L282.5 536.5L283.1 537.0L283.7 537.3L284.3 538.2L284.9 538.5L285.5 538.9L286.1 539.0L286.7 539.1L287.3 539.1L287.9 539.2L288.5 539.7L289.1 540.1L289.7 540.5L290.3 540.9L290.9 541.0L291.5 541.5L292.1 541.3L292.7 541.7L293.3 541.9L293.9 542.5L294.5 542.9L295.1 542.9L295.7 543.1L296.3 542.9L296.9 543.3L297.5 543.8L298.1 544.4L298.7 544.9L299.3 544.5L299.9 544.3L300.5 543.8L301.1 544.2L301.7 544.8L302.3 544.7L302.9 544.4L303.5 544.4L304.1 544.7L304.7 544.3L305.3 544.1L305.9 544.4L306.5 545.0L307.1 545.3L307.7 545.6L308.3 546.0L308.9 546.3L309.5 546.4L310.1 546.3L310.7 546.4L311.3 545.7L311.9 546.0L312.5 546.1L313.1 546.8L313.7 546.6L314.3 546.4L314.9 546.5L315.5 546.9L316.1 547.6L316.7 547.8L317.3 547.5L317.9 547.2L318.5 547.3L319.1 547.6L319.7 547.7L320.3 547.4L320.9 547.5L321.5 547.6L322.1 548.2L322.7 548.4L323.3 548.0L323.9 548.2L324.5 548.0L325.1 548.4L325.7 548.0L326.3 548.2L326.9 548.3L327.5 548.3L328.1 548.1L328.7 548.6L329.3 548.7L329.9 548.9L330.5 548.7L331.1 548.6L331.7 548.3L332.3 548.0L332.9 548.2L333.5 548.2L334.1 548.2L334.7 547.8L335.3 547.7L335.9 548.1L336.5 548.4L337.1 548.6L337.7 548.9L338.3 548.9L338.9 549.2L339.5 549.0L340.1 549.5L340.7 549.6L341.3 549.6L341.9 549.0L342.5 548.6L343.1 548.6L343.7 548.9L344.3 549.4L344.9 549.3L345.5 549.3L346.1 549.0L346.7 548.7L347.3 548.7L347.9 549.2L348.5 549.9L349.1 550.2L349.7 550.2L350.3 549.7L350.9 549.3L351.5 549.4L352.1 549.6L352.7 549.4L353.3 549.1L353.9 549.5L354.5 549.9L355.1 549.7L355.7 549.4L356.3 549.1L356.9 548.9L357.5 548.8L358.1 548.8L358.7 548.9L359.3 549.6L359.9 550.0L360.5 550.1L361.1 549.8L361.7 549.6L362.3 549.8L362.9 549.9L363.5 549.8L364.1 549.6L364.7 549.3L365.3 549.5L365.9 549.4L366.5 549.4L367.1 550.2L367.7 550.6L368.3 550.8L368.9 550.5L369.5 550.3L370.1 549.9L370.7 549.8L371.3 550.2L371.9 550.0L372.5 550.0L373.1 550.0L373.7 550.5L374.3 550.3L374.9 550.2L375.5 550.0L376.1 550.3L376.7 550.3L377.3 550.5L377.9 550.2L378.5 550.1L379.1 550.1L379.7 550.3L380.3 549.5L380.9 549.8L381.5 549.4L382.1 550.2L382.7 550.0L383.3 550.2L383.9 550.0L384.5 549.7L385.1 549.8L385.7 550.1L386.3 550.6L386.9 550.5L387.5 550.3L388.1 549.8L388.7 549.9L389.3 549.7L389.9 549.7L390.5 549.8L391.1 550.4L391.7 551.1L392.3 551.5L392.9 550.7L393.5 550.7L394.1 550.0L394.7 550.3L395.3 549.7L395.9 549.8L396.5 549.9L397.1 550.4L397.7 550.6L398.3 550.6L398.9 550.7L399.5 550.7L400.1 550.4L400.7 550.7L401.3 550.6L401.9 551.2L402.5 550.8L403.1 550.6L403.7 550.4L404.3 550.3L404.9 550.9L405.5 550.6L406.1 551.0L406.7 550.4L407.3 550.7L407.9 551.2L408.5 551.5L409.1 551.5L409.7 550.5L410.3 550.3L410.9 550.3L411.5 551.0L412.1 550.7L412.7 550.4L413.3 550.0L413.9 550.4L414.5 551.2L415.1 551.1L415.7 550.4L416.3 549.8L416.9 549.7L417.5 550.2L418.1 550.7L418.7 550.7L419.3 551.1L419.9 550.9L420.5 551.2L421.1 550.7L421.7 550.5L422.3 550.5L422.9 550.9L423.5 551.3L424.1 551.4L424.7 551.4L425.3 551.4L425.9 551.7L426.5 551.7L427.1 551.8L427.7 551.9L428.3 552.1L428.9 551.7L429.5 551.2L430.1 550.4L430.7 550.8L431.3 551.0L431.9 551.3L432.5 551.0L433.1 550.9L433.7 550.7L434.3 550.8L434.9 551.0L435.5 551.7L436.1 551.6L436.7 551.2L437.3 551.2L437.9 551.6L438.5 551.5L439.1 551.0L439.7 551.0L440.3 551.0L440.9 551.0L441.5 551.2L442.1 551.5L442.7 551.5L443.3 551.2L443.9 551.7L444.5 551.8L445.1 551.5L445.7 550.6L446.3 551.1L446.9 550.7L447.5 551.3L448.1 550.6L448.7 550.9L449.3 550.4L449.9 550.6L450.5 551.2L451.1 551.3L451.7 551.5L452.3 551.8L452.9 551.3L453.5 551.0L454.1 549.9L454.7 550.8L455.3 550.7L455.9 550.7L456.5 550.1L457.1 550.5L457.7 551.2L458.3 551.6L458.9 552.1L459.5 552.2L460.1 552.2L460.7 551.9L461.3 551.5L461.9 551.6L462.5 550.9L463.1 550.5L463.7 550.5L464.3 550.7L464.9 551.2L465.5 551.3L466.1 551.4L466.7 551.5L467.3 551.5L467.9 552.0L468.5 551.7L469.1 551.2L469.7 551.1L470.3 551.1L470.9 551.7L471.5 551.8L472.1 552.1L472.7 551.6L473.3 550.7L473.9 550.3L474.5 550.9L475.1 551.3L475.7 551.5L476.3 551.1L476.9 551.2L477.5 551.1L478.1 551.1L478.7 551.3L479.3 551.5L479.9 552.1L480.5 552.0L481.1 552.3L481.7 551.9L482.3 552.0L482.9 551.7L483.5 551.5L484.1 551.6L484.7 551.9L485.3 552.2L485.9 551.7L486.5 551.1L487.1 550.7L487.7 550.9L488.3 551.0L488.9 551.6L489.5 551.1L490.1 551.6L490.7 551.9L491.3 551.7L491.9 551.1L492.5 550.7L493.1 551.3L493.7 551.7L494.3 551.5L494.9 551.9L495.5 552.0L496.1 551.9L496.7 551.5L497.3 551.1L497.9 551.2L498.5 550.6L499.1 551.1L499.7 551.1L500.3 552.1L500.9 552.2L501.5 552.0L502.1 551.7L502.7 551.3L503.3 551.7L503.9 551.7L504.5 551.9L505.1 552.0L505.7 551.9L506.3 551.6L506.9 551.3L507.5 551.4L508.1 551.8L508.7 551.9L509.3 551.8L509.9 551.3L510.5 550.7L511.1 550.5L511.7 550.8L512.3 551.4L512.9 551.9L513.5 552.1L514.1 552.3L514.7 552.2L515.3 552.1L515.9 551.6L516.5 551.6L517.1 551.6L517.7 552.1L518.3 551.6" stroke="#5E81B5"/>
<path d="M69.5 629.7L70.1 629.9L70.7 630.0L71.3 630.2L71.9 630.0L72.5 629.7L73.1 629.6L73.7 629.7L74.3 629.8L74.9 629.7L75.5 629.5L76.1 629.8L76.7 629.9L77.3 629.8L77.9 629.8L78.5 629.9L79.1 630.4L79.7 630.4L80.3 630.6L80.9 630.3L81.5 630.3L82.1 629.9L82.7 629.8L83.3 629.6L83.9 630.1L84.5 630.3L85.1 630.2L85.7 629.7L86.3 629.9L86.9 630.0L87.5 630.2L88.1 630.0L88.7 629.7L89.3 629.7L89.9 629.6L90.5 629.6L91.1 629.5L91.7 629.5L92.3 629.7L92.9 629.6L93.5 629.8L94.1 629.8L94.7 629.5L95.3 629.6L95.9 629.4L96.5 629.6L97.1 629.5L97.7 629.2L98.3 629.1L98.9 629.2L99.5 629.6L100.1 629.6L100.7 629.4L101.3 629.3L101.9 629.4L102.5 629.2L103.1 629.1L103.7 629.2L104.3 629.3L104.9 629.6L105.5 629.4L106.1 629.7L106.7 629.7L107.3 629.8L107.9 629.4L108.5 629.0L109.1 629.2L109.7 629.5L110.3 629.6L110.9 629.7L111.5 629.7L112.1 629.8L112.7 629.2L113.3 629.0L113.9 629.0L114.5 629.3L115.1 629.4L115.7 629.1L116.3 629.1L116.9 629.1L117.5 629.3L118.1 629.2L118.7 629.2L119.3 629.5L119.9 629.4L120.5 629.5L121.1 629.0L121.7 628.9L122.3 628.8L122.9 628.9L123.5 629.0L124.1 628.8L124.7 628.9L125.3 628.8L125.9 629.2L126.5 629.1L127.1 629.5L127.7 629.6L128.3 629.7L128.9 629.6L129.5 629.1L130.1 628.7L130.7 628.6L131.3 628.8L131.9 629.1L132.5 628.9L133.1 628.8L133.7 628.8L134.3 628.8L134.9 628.6L135.5 628.7L136.1 628.9L136.7 628.9L137.3 628.9L137.9 628.8L138.5 629.0L139.1 628.6L139.7 628.6L140.3 628.4L140.9 628.7L141.5 628.7L142.1 629.1L142.7 629.1L143.3 629.0L143.9 629.0L144.5 628.6L145.1 629.0L145.7 628.4L146.3 628.7L146.9 628.2L147.5 628.3L148.1 628.4L148.7 628.3L149.3 628.0L149.9 627.7L150.5 628.0L151.1 628.3L151.7 628.4L152.3 628.1L152.9 628.1L153.5 627.9L154.1 628.3L154.7 628.2L155.3 628.4L155.9 628.0L156.5 627.9L157.1 627.4L157.7 627.6L158.3 627.7L158.9 627.9L159.5 628.0L160.1 627.8L160.7 627.8L161.3 627.7L161.9 627.9L162.5 627.9L163.1 627.5L163.7 627.3L164.3 627.3L164.9 627.5L165.5 627.1L166.1 627.1L166.7 627.2L167.3 627.5L167.9 627.5L168.5 627.3L169.1 627.1L169.7 626.7L170.3 626.9L170.9 626.8L171.5 626.8L172.1 626.7L172.7 626.9L173.3 627.0L173.9 626.6L174.5 626.4L175.1 626.1L175.7 626.3L176.3 626.2L176.9 626.2L177.5 626.0L178.1 625.9L178.7 625.8L179.3 625.8L179.9 625.5L180.5 625.2L181.1 625.1L181.7 625.3L182.3 625.6L182.9 625.4L183.5 625.0L184.1 624.6L184.7 624.6L185.3 624.5L185.9 624.2L186.5 624.1L187.1 624.2L187.7 623.9L188.3 624.2L188.9 623.8L189.5 623.9L190.1 623.3L190.7 623.0L191.3 622.7L191.9 622.9L192.5 623.4L193.1 623.4L193.7 623.2L194.3 622.7L194.9 622.5L195.5 622.4L196.1 622.6L196.7 622.6L197.3 622.0L197.9 621.5L198.5 621.3L199.1 621.2L199.7 621.2L200.3 621.0L200.9 620.8L201.5 620.6L202.1 620.2L202.7 619.7L203.3 619.1L203.9 619.0L204.5 618.8L205.1 618.8L205.7 618.4L206.3 617.9L206.9 617.5L207.5 616.9L208.1 616.5L208.7 615.5L209.3 615.4L209.9 614.9L210.5 614.8L211.1 614.0L211.7 614.0L212.3 613.5L212.9 612.8L213.5 611.9L214.1 611.2L214.7 610.7L215.3 609.8L215.9 609.1L216.5 608.7L217.1 608.2L217.7 607.7L218.3 607.0L218.9 606.0L219.5 604.4L220.1 602.7L220.7 601.7L221.3 600.9L221.9 599.4L222.5 597.8L223.1 596.2L223.7 594.9L224.3 593.3L224.9 591.4L225.5 589.4L226.1 587.5L226.7 585.7L227.3 583.5L227.9 581.4L228.5 578.5L229.1 576.2L229.7 573.4L230.3 570.7L230.9 567.6L231.5 564.0L232.1 560.3L232.7 556.6L233.3 553.0L233.9 549.3L234.5 545.6L235.1 541.5L235.7 537.2L236.3 532.2L236.9 527.8L237.5 523.1L238.1 518.4L238.7 513.2L239.3 508.2L239.9 503.5L240.5 498.7L241.1 494.4L241.7 490.3L242.3 486.9L242.9 483.0L243.5 479.6L244.1 476.4L244.7 474.5L245.3 473.1L245.9 472.4L246.5 472.3L247.1 472.8L247.7 474.1L248.3 475.7L248.9 478.1L249.5 481.3L250.1 485.3L250.7 489.6L251.3 493.8L251.9 498.4L252.5 503.2L253.1 508.7L253.7 514.2L254.3 519.4L254.9 524.3L255.5 529.3L256.1 534.3L256.7 539.3L257.3 543.9L257.9 548.7L258.5 553.0L259.1 557.3L259.7 560.8L260.3 564.7L260.9 567.9L261.5 571.1L262.1 574.2L262.7 577.4L263.3 580.4L263.9 583.0L264.5 585.5L265.1 587.7L265.7 589.5L266.3 591.4L266.9 593.4L267.5 595.7L268.1 597.2L268.7 598.9L269.3 600.4L269.9 601.6L270.5 602.8L271.1 603.5L271.7 604.6L272.3 605.4L272.9 606.5L273.5 607.3L274.1 608.3L274.7 609.3L275.3 610.7L275.9 611.4L276.5 611.7L277.1 611.9L277.7 612.7L278.3 613.8L278.9 614.6L279.5 614.9L280.1 615.3L280.7 615.7L281.3 616.1L281.9 616.6L282.5 617.1L283.1 617.5L283.7 617.9L284.3 618.1L284.9 618.2L285.5 618.4L286.1 618.8L286.7 619.8L287.3 620.2L287.9 620.8L288.5 621.1L289.1 621.2L289.7 621.0L290.3 621.0L290.9 621.8L291.5 622.2L292.1 622.5L292.7 622.3L293.3 622.0L293.9 622.1L294.5 622.5L295.1 623.3L295.7 623.6L296.3 623.7L296.9 623.8L297.5 624.0L298.1 624.3L298.7 624.0L299.3 624.0L299.9 623.7L300.5 624.2L301.1 624.4L301.7 624.8L302.3 624.9L302.9 625.2L303.5 625.5L304.1 625.8L304.7 625.7L305.3 625.6L305.9 625.4L306.5 625.5L307.1 625.9L307.7 626.2L308.3 626.4L308.9 626.1L309.5 626.2L310.1 626.1L310.7 626.2L311.3 626.5L311.9 626.9L312.5 626.9L313.1 626.6L313.7 626.9L314.3 626.9L314.9 626.9L315.5 626.4L316.1 626.8L316.7 627.0L317.3 627.5L317.9 627.1L318.5 627.1L319.1 626.7L319.7 627.3L320.3 627.3L320.9 628.0L321.5 628.0L322.1 627.9L322.7 627.9L323.3 627.6L323.9 627.8L324.5 627.8L325.1 628.2L325.7 628.4L326.3 628.2L326.9 628.3L327.5 628.4L328.1 628.5L328.7 628.6L329.3 628.8L329.9 628.8L330.5 628.4L331.1 628.5L331.7 628.6L332.3 628.9L332.9 628.8L333.5 628.7L334.1 628.7L334.7 628.3L335.3 628.6L335.9 628.5L336.5 628.8L337.1 628.9L337.7 628.9L338.3 628.9L338.9 628.7L339.5 628.8L340.1 629.0L340.7 629.2L341.3 629.2L341.9 628.8L342.5 629.0L343.1 629.1L343.7 629.6L344.3 629.3L344.9 629.5L345.5 629.6L346.1 629.7L346.7 629.4L347.3 629.3L347.9 629.5L348.5 629.9L349.1 629.9L349.7 629.6L350.3 629.6L350.9 629.6L351.5 629.6L352.1 629.6L352.7 629.4L353.3 629.7L353.9 629.8L354.5 630.3L355.1 629.7L355.7 629.6L356.3 629.2L356.9 629.6L357.5 629.5L358.1 629.6L358.7 629.2L359.3 629.5L359.9 629.8L360.5 630.4L361.1 630.4L361.7 630.0L362.3 629.7L362.9 629.7L363.5 630.1L364.1 630.3L364.7 629.9L365.3 630.2L365.9 630.0L366.5 630.5L367.1 629.8L367.7 630.1L368.3 630.0L368.9 630.5L369.5 630.5L370.1 630.2L370.7 629.7L371.3 629.6L371.9 630.1L372.5 630.6L373.1 630.6L373.7 630.5L374.3 630.1L374.9 630.1L375.5 630.3L376.1 630.3L376.7 630.3L377.3 629.9L377.9 629.5L378.5 629.6L379.1 630.0L379.7 630.3L380.3 630.4L380.9 630.4L381.5 630.5L382.1 630.5L382.7 630.3L383.3 630.3L383.9 630.1L384.5 630.2L385.1 630.4L385.7 630.6L386.3 630.6L386.9 630.6L387.5 630.4L388.1 630.4L388.7 630.5L389.3 630.6L389.9 630.8L390.5 630.7L391.1 630.8L391.7 630.9L392.3 630.8L392.9 630.7L393.5 630.4L394.1 630.5L394.7 630.6L395.3 630.7L395.9 630.7L396.5 630.8L397.1 630.6L397.7 630.8L398.3 630.6L398.9 630.6L399.5 630.4L400.1 630.6L400.7 630.5L401.3 630.8L401.9 630.6L402.5 630.7L403.1 630.3L403.7 630.4L404.3 630.5L404.9 630.6L405.5 630.6L406.1 630.4L406.7 630.3L407.3 630.7L407.9 630.7L408.5 630.6L409.1 630.1L409.7 630.2L410.3 630.7L410.9 630.7L411.5 630.8L412.1 631.0L412.7 631.1L413.3 631.3L413.9 631.1L414.5 631.3L415.1 630.8L415.7 630.6L416.3 630.5L416.9 630.4L417.5 630.0L418.1 630.1L418.7 630.5L419.3 631.0L419.9 631.1L420.5 631.0L421.1 630.7L421.7 630.6L422.3 630.5L422.9 630.7L423.5 630.7L424.1 630.8L424.7 630.5L425.3 630.3L425.9 630.4L426.5 630.6L427.1 630.7L427.7 631.0L428.3 631.2L428.9 631.2L429.5 631.0L430.1 630.7L430.7 631.1L431.3 631.2L431.9 631.3L432.5 631.2L433.1 631.5L433.7 631.5L434.3 631.2L434.9 630.7L435.5 630.7L436.1 630.9L436.7 630.8L437.3 631.3L437.9 631.3L438.5 631.3L439.1 630.7L439.7 630.4L440.3 630.2L440.9 630.3L441.5 630.6L442.1 630.7L442.7 630.8L443.3 630.9L443.9 630.9L444.5 630.4L445.1 630.4L445.7 630.6L446.3 631.0L446.9 630.7L447.5 630.7L448.1 630.4L448.7 630.9L449.3 630.9L449.9 631.2L450.5 630.9L451.1 630.7L451.7 630.9L452.3 631.3L452.9 631.4L453.5 631.2L454.1 631.4L454.7 631.2L455.3 631.0L455.9 630.6L456.5 630.9L457.1 630.8L457.7 631.0L458.3 630.7L458.9 631.1L459.5 631.2L460.1 631.3L460.7 631.3L461.3 631.0L461.9 631.0L462.5 631.1L463.1 631.2L463.7 631.3L464.3 631.0L464.9 631.1L465.5 631.1L466.1 631.1L466.7 630.5L467.3 630.1L467.9 630.3L468.5 630.7L469.1 630.8L469.7 630.8L470.3 631.0L470.9 631.3L471.5 631.2L472.1 631.2L472.7 631.5L473.3 631.9L473.9 631.6L474.5 631.4L475.1 631.2L475.7 631.3L476.3 631.0L476.9 631.1L477.5 631.0L478.1 631.3L478.7 631.3L479.3 631.6L479.9 631.2L480.5 631.2L481.1 631.1L481.7 631.4L482.3 631.4L482.9 631.2L483.5 631.4L484.1 631.6L484.7 631.8L485.3 631.0L485.9 630.6L486.5 630.6L487.1 630.9L487.7 630.7L488.3 630.7L488.9 630.9L489.5 631.1L490.1 631.0L490.7 630.8L491.3 631.1L491.9 630.8L492.5 630.7L493.1 630.5L493.7 630.7L494.3 631.4L494.9 631.4L495.5 631.6L496.1 631.1L496.7 631.1L497.3 631.1L497.9 631.5L498.5 631.6L499.1 631.7L499.7 631.4L500.3 631.6L500.9 631.5L501.5 631.9L502.1 631.6L502.7 631.4L503.3 630.8L503.9 630.7L504.5 630.7L505.1 631.3L505.7 631.8L506.3 632.0L506.9 631.8L507.5 631.6L508.1 631.8L508.7 631.6L509.3 631.9L509.9 631.5L510.5 631.6L511.1 631.4L511.7 631.4L512.3 631.5L512.9 631.6L513.5 631.9L514.1 631.8L514.7 631.3L515.3 630.6L515.9 630.4L516.5 630.6L517.1 631.1L517.7 631.1L518.3 631.2" stroke="#E19C24"/>
<path d="M69.5 633.4L70.1 634.3L70.7 633.4L71.3 633.9L71.9 632.6L72.5 633.2L73.1 633.9L73.7 632.0L74.3 633.1L74.9 633.0L75.5 632.2L76.1 632.9L76.7 633.9L77.3 633.3L77.9 633.8L78.5 632.7L79.1 632.6L79.7 632.4L80.3 632.5L80.9 632.5L81.5 632.6L82.1 631.8L82.7 633.5L83.3 633.2L83.9 633.0L84.5 632.9L85.1 632.9L85.7 633.2L86.3 633.0L86.9 631.9L87.5 633.0L88.1 634.0L88.7 631.8L89.3 633.5L89.9 633.6L90.5 632.8L91.1 633.3L91.7 631.7L92.3 632.7L92.9 633.4L93.5 632.5L94.1 632.6L94.7 633.0L95.3 632.5L95.9 633.6L96.5 632.6L97.1 633.6L97.7 632.4L98.3 633.0L98.9 633.0L99.5 631.6L100.1 632.8L100.7 632.0L101.3 632.2L101.9 633.4L102.5 632.2L103.1 632.4L103.7 633.4L104.3 632.0L104.9 632.7L105.5 631.8L106.1 632.0L106.7 632.7L107.3 633.8L107.9 633.5L108.5 632.7L109.1 632.7L109.7 632.6L110.3 632.2L110.9 633.3L111.5 632.7L112.1 632.3L112.7 633.0L113.3 633.3L113.9 633.3L114.5 632.7L115.1 632.5L115.7 633.1L116.3 632.3L116.9 632.2L117.5 632.9L118.1 632.6L118.7 633.1L119.3 633.6L119.9 633.3L120.5 633.3L121.1 634.5L121.7 633.4L122.3 633.2L122.9 633.7L123.5 633.7L124.1 632.5L124.7 632.6L125.3 632.1L125.9 631.3L126.5 632.6L127.1 632.8L127.7 632.4L128.3 631.4L128.9 632.0L129.5 632.1L130.1 632.7L130.7 632.4L131.3 634.2L131.9 633.2L132.5 633.4L133.1 633.3L133.7 631.4L134.3 631.5L134.9 632.4L135.5 632.7L136.1 633.0L136.7 633.4L137.3 633.6L137.9 632.0L138.5 632.9L139.1 632.5L139.7 632.2L140.3 631.8L140.9 632.3L141.5 633.3L142.1 633.1L142.7 633.0L143.3 632.9L143.9 632.2L144.5 632.9L145.1 633.5L145.7 633.0L146.3 632.5L146.9 633.0L147.5 632.5L148.1 633.1L148.7 633.2L149.3 632.2L149.9 632.8L150.5 633.4L151.1 632.7L151.7 632.8L152.3 632.0L152.9 632.2L153.5 632.2L154.1 634.0L154.7 632.6L155.3 632.4L155.9 632.1L156.5 632.1L157.1 632.6L157.7 632.4L158.3 633.5L158.9 632.8L159.5 633.7L160.1 632.9L160.7 633.2L161.3 631.9L161.9 632.6L162.5 632.7L163.1 632.8L163.7 631.8L164.3 632.9L164.9 632.3L165.5 632.5L166.1 632.8L166.7 632.6L167.3 632.9L167.9 632.7L168.5 633.0L169.1 633.5L169.7 633.0L170.3 632.3L170.9 632.1L171.5 631.8L172.1 633.0L172.7 633.5L173.3 632.4L173.9 633.3L174.5 633.1L175.1 632.5L175.7 633.1L176.3 631.7L176.9 631.7L177.5 632.1L178.1 633.2L178.7 633.4L179.3 633.2L179.9 633.4L180.5 632.4L181.1 633.9L181.7 633.0L182.3 633.1L182.9 632.9L183.5 632.4L184.1 632.4L184.7 632.6L185.3 632.8L185.9 632.6L186.5 632.4L187.1 631.4L187.7 632.0L188.3 632.1L188.9 632.8L189.5 631.7L190.1 633.5L190.7 633.0L191.3 633.1L191.9 633.9L192.5 633.9L193.1 633.5L193.7 633.5L194.3 633.4L194.9 633.9L195.5 633.7L196.1 632.8L196.7 633.2L197.3 632.6L197.9 632.7L198.5 632.1L199.1 632.3L199.7 633.0L200.3 632.3L200.9 633.5L201.5 632.8L202.1 632.7L202.7 631.3L203.3 632.7L203.9 633.1L204.5 632.8L205.1 633.2L205.7 632.2L206.3 633.5L206.9 633.0L207.5 633.7L208.1 632.6L208.7 633.8L209.3 633.6L209.9 633.9L210.5 633.0L211.1 633.4L211.7 635.1L212.3 633.6L212.9 633.6L213.5 633.7L214.1 633.5L214.7 634.5L215.3 634.4L215.9 633.1L216.5 632.6L217.1 634.5L217.7 634.1L218.3 633.7L218.9 634.9L219.5 633.9L220.1 634.2L220.7 633.0L221.3 632.7L221.9 635.5L222.5 633.9L223.1 635.5L223.7 633.4L224.3 633.1L224.9 635.0L225.5 635.1L226.1 634.4L226.7 633.9L227.3 635.5L227.9 636.9L228.5 634.5L229.1 636.2L229.7 637.9L230.3 637.4L230.9 635.8L231.5 636.9L232.1 636.5L232.7 637.8L233.3 637.5L233.9 638.6L234.5 639.3L235.1 637.1L235.7 640.7L236.3 640.9L236.9 640.0L237.5 640.6L238.1 638.1L238.7 638.2L239.3 641.2L239.9 638.4L240.5 635.5L241.1 638.9L241.7 634.8L242.3 634.2L242.9 631.6L243.5 630.0L244.1 630.9L244.7 631.5L245.3 632.5L245.9 626.6L246.5 630.1L247.1 626.3L247.7 627.2L248.3 628.9L248.9 627.3L249.5 624.9L250.1 629.1L250.7 625.2L251.3 626.0L251.9 624.8L252.5 625.8L253.1 622.6L253.7 623.6L254.3 621.3L254.9 623.0L255.5 622.0L256.1 623.5L256.7 625.9L257.3 624.8L257.9 624.5L258.5 627.2L259.1 625.9L259.7 625.7L260.3 628.4L260.9 627.2L261.5 629.0L262.1 629.0L262.7 627.8L263.3 628.4L263.9 628.0L264.5 628.7L265.1 628.7L265.7 631.2L266.3 629.8L266.9 631.3L267.5 631.4L268.1 631.7L268.7 631.6L269.3 630.9L269.9 632.1L270.5 632.0L271.1 631.6L271.7 631.1L272.3 631.1L272.9 632.1L273.5 631.5L274.1 632.0L274.7 632.4L275.3 632.0L275.9 632.8L276.5 631.9L277.1 631.8L277.7 632.6L278.3 632.8L278.9 632.9L279.5 632.1L280.1 632.6L280.7 632.9L281.3 632.8L281.9 632.4L282.5 632.4L283.1 632.7L283.7 633.0L284.3 633.1L284.9 632.2L285.5 633.2L286.1 632.6L286.7 632.8L287.3 632.3L287.9 632.0L288.5 633.1L289.1 632.0L289.7 631.6L290.3 632.0L290.9 632.3L291.5 633.1L292.1 632.3L292.7 632.6L293.3 632.1L293.9 633.0L294.5 632.8L295.1 632.9L295.7 631.5L296.3 632.5L296.9 633.1L297.5 632.6L298.1 632.8L298.7 632.4L299.3 631.1L299.9 632.4L300.5 632.7L301.1 632.5L301.7 632.5L302.3 633.5L302.9 633.2L303.5 633.5L304.1 633.8L304.7 632.3L305.3 632.5L305.9 632.1L306.5 632.7L307.1 633.1L307.7 632.9L308.3 633.1L308.9 632.4L309.5 632.5L310.1 632.6L310.7 633.1L311.3 632.3L311.9 632.6L312.5 632.8L313.1 632.6L313.7 632.4L314.3 632.1L314.9 633.7L315.5 633.5L316.1 632.9L316.7 632.4L317.3 633.8L317.9 633.1L318.5 632.4L319.1 632.4L319.7 632.1L320.3 632.8L320.9 632.1L321.5 633.3L322.1 632.2L322.7 633.5L323.3 632.9L323.9 634.3L324.5 632.4L325.1 632.2L325.7 632.3L326.3 632.5L326.9 631.3L327.5 631.7L328.1 631.3L328.7 632.1L329.3 631.8L329.9 631.4L330.5 631.6L331.1 632.0L331.7 632.4L332.3 633.1L332.9 633.5L333.5 631.8L334.1 632.1L334.7 632.5L335.3 633.1L335.9 632.6L336.5 632.3L337.1 631.7L337.7 632.2L338.3 632.0L338.9 631.9L339.5 632.6L340.1 632.4L340.7 631.8L341.3 632.6L341.9 632.6L342.5 632.1L343.1 632.6L343.7 632.8L344.3 631.6L344.9 632.3L345.5 633.2L346.1 633.8L346.7 632.1L347.3 632.2L347.9 631.7L348.5 631.7L349.1 631.1L349.7 632.3L350.3 631.7L350.9 631.9L351.5 632.7L352.1 632.2L352.7 632.3L353.3 632.9L353.9 632.6L354.5 632.3L355.1 632.5L355.7 632.4L356.3 633.0L356.9 632.0L357.5 631.0L358.1 631.9L358.7 632.5L359.3 632.4L359.9 632.9L360.5 633.0L361.1 632.3L361.7 632.5L362.3 631.9L362.9 632.8L363.5 632.9L364.1 633.7L364.7 632.0L365.3 630.7L365.9 631.4L366.5 632.1L367.1 631.7L367.7 632.1L368.3 632.5L368.9 632.8L369.5 632.2L370.1 631.3L370.7 632.0L371.3 631.4L371.9 631.7L372.5 631.3L373.1 631.6L373.7 632.2L374.3 631.1L374.9 632.1L375.5 632.6L376.1 632.2L376.7 632.4L377.3 631.7L377.9 632.8L378.5 633.1L379.1 632.8L379.7 632.1L380.3 632.3L380.9 633.7L381.5 633.7L382.1 633.1L382.7 633.3L383.3 632.5L383.9 632.2L384.5 632.4L385.1 632.7L385.7 631.8L386.3 633.1L386.9 633.1L387.5 631.7L388.1 631.5L388.7 632.7L389.3 632.6L389.9 631.4L390.5 633.0L391.1 632.6L391.7 632.9L392.3 633.6L392.9 632.6L393.5 631.8L394.1 632.1L394.7 631.3L395.3 631.8L395.9 632.6L396.5 632.1L397.1 632.1L397.7 633.4L398.3 633.4L398.9 633.0L399.5 632.7L400.1 632.7L400.7 633.2L401.3 632.3L401.9 633.2L402.5 632.3L403.1 632.5L403.7 631.3L404.3 631.1L404.9 631.6L405.5 632.5L406.1 632.0L406.7 632.5L407.3 632.2L407.9 631.9L408.5 631.5L409.1 632.2L409.7 631.2L410.3 632.9L410.9 633.0L411.5 632.7L412.1 631.7L412.7 631.3L413.3 632.6L413.9 631.2L414.5 632.5L415.1 632.6L415.7 632.2L416.3 631.8L416.9 632.4L417.5 632.5L418.1 631.4L418.7 631.9L419.3 633.1L419.9 632.6L420.5 633.7L421.1 632.3L421.7 632.9L422.3 631.4L422.9 632.7L423.5 631.5L424.1 631.5L424.7 632.8L425.3 632.8L425.9 633.4L426.5 632.2L427.1 632.1L427.7 632.7L428.3 633.3L428.9 632.6L429.5 632.9L430.1 632.6L430.7 632.4L431.3 632.4L431.9 632.7L432.5 632.2L433.1 633.4L433.7 632.1L434.3 633.5L434.9 633.4L435.5 632.7L436.1 631.9L436.7 632.0L437.3 631.8L437.9 632.4L438.5 631.9L439.1 632.9L439.7 631.7L440.3 632.3L440.9 631.2L441.5 632.6L442.1 632.6L442.7 632.8L443.3 633.5L443.9 633.4L444.5 631.2L445.1 632.6L445.7 631.8L446.3 633.0L446.9 633.5L447.5 632.0L448.1 632.4L448.7 632.4L449.3 632.6L449.9 632.5L450.5 632.9L451.1 631.6L451.7 632.8L452.3 631.8L452.9 632.2L453.5 632.6L454.1 632.2L454.7 631.6L455.3 632.4L455.9 631.8L456.5 632.7L457.1 633.0L457.7 632.6L458.3 633.1L458.9 632.9L459.5 632.5L460.1 632.7L460.7 632.9L461.3 632.5L461.9 632.7L462.5 632.6L463.1 633.2L463.7 631.2L464.3 632.7L464.9 632.3L465.5 632.3L466.1 631.9L466.7 631.2L467.3 631.7L467.9 631.8L468.5 632.3L469.1 631.4L469.7 633.2L470.3 632.4L470.9 632.5L471.5 632.1L472.1 632.4L472.7 631.9L473.3 632.1L473.9 631.9L474.5 632.1L475.1 631.8L475.7 633.0L476.3 632.9L476.9 633.3L477.5 633.6L478.1 632.8L478.7 632.3L479.3 632.0L479.9 632.2L480.5 631.9L481.1 632.6L481.7 632.0L482.3 632.6L482.9 632.4L483.5 632.7L484.1 633.2L484.7 632.2L485.3 632.0L485.9 631.4L486.5 632.5L487.1 631.4L487.7 631.7L488.3 631.2L488.9 631.6L489.5 632.6L490.1 633.8L490.7 631.6L491.3 632.5L491.9 631.8L492.5 631.6L493.1 632.1L493.7 632.4L494.3 632.6L494.9 633.9L495.5 632.2L496.1 632.9L496.7 632.7L497.3 632.3L497.9 632.9L498.5 633.0L499.1 632.7L499.7 632.7L500.3 633.3L500.9 631.8L501.5 633.1L502.1 633.1L502.7 632.7L503.3 633.1L503.9 631.9L504.5 632.2L505.1 631.7L505.7 631.7L506.3 631.9L506.9 630.8L507.5 631.6L508.1 631.2L508.7 632.3L509.3 632.4L509.9 632.2L510.5 631.8L511.1 632.9L511.7 631.1L512.3 631.4L512.9 631.5L513.5 632.6L514.1 633.2L514.7 632.2L515.3 631.6L515.9 632.2L516.5 633.0L517.1 631.8L517.7 632.6L518.3 632.9" stroke="#000" stroke-width="1.5"/>
</g>
<path d="M68.7 648.00H72.2M68.7 632.00H74.2M68.7 616.00H72.2M68.7 600.00H72.2M68.7 584.00H72.2M68.7 568.00H72.2M68.7 552.00H74.2M68.7 536.00H72.2M68.7 520.00H72.2M68.7 504.00H72.2M68.7 488.00H72.2M68.7 472.00H74.2M68.7 456.00H72.2M68.7 440.00H72.2M68.7 424.00H72.2M68.7 408.00H72.2M68.7 392.00H74.2M68.94 656.0V653.0M86.59 656.0V653.0M104.25 656.0V653.0M121.90 656.0V651.0M139.56 656.0V653.0M157.21 656.0V653.0M174.87 656.0V653.0M192.52 656.0V653.0M210.18 656.0V651.0M227.83 656.0V653.0M245.49 656.0V653.0M263.14 656.0V653.0M280.79 656.0V653.0M298.45 656.0V651.0M316.11 656.0V653.0M333.76 656.0V653.0M351.42 656.0V653.0M369.07 656.0V653.0M386.73 656.0V651.0M404.38 656.0V653.0M422.04 656.0V653.0M439.69 656.0V653.0M457.35 656.0V653.0M475.00 656.0V651.0M492.66 656.0V653.0M510.31 656.0V653.0" stroke="#444" stroke-width="1" fill="none"/>
<rect x="68.70" y="378.30" width="449.90" height="277.70" fill="none" stroke="#000" stroke-width="2.70"/>
<text x="64.6" y="640.4" font-size="23.5" text-anchor="end">0.0</text>
<text x="64.6" y="560.4" font-size="23.5" text-anchor="end">0.5</text>
<text x="64.6" y="480.4" font-size="23.5" text-anchor="end">1.0</text>
<text x="64.6" y="400.4" font-size="23.5" text-anchor="end">1.5</text>
<text x="122.1" y="682.8" font-size="23.5" text-anchor="middle">17.15</text>
<text x="210.6" y="682.8" font-size="23.5" text-anchor="middle">17.20</text>
<text x="299.2" y="682.8" font-size="23.5" text-anchor="middle">17.25</text>
<text x="387.8" y="682.8" font-size="23.5" text-anchor="middle">17.30</text>
<text x="476.3" y="682.8" font-size="23.5" text-anchor="middle">17.35</text>
<text x="293.5" y="718.8" font-size="23.5" text-anchor="middle">Energy (KeV)</text>
<text transform="translate(18.8,516.3) rotate(-90)" font-size="23.5" text-anchor="middle">Normalized Intensity</text>
<text transform="translate(87.19,408.00) scale(1.006,1)" font-size="28.8">(b)</text>
<text x="436" y="407" font-size="29">U L<tspan font-style="italic">β</tspan><tspan font-size="19" dy="6">1</tspan></text>
<line x1="350.2" y1="435.3" x2="374.5" y2="435.3" stroke="#5E81B5" stroke-width="1.4"/>
<line x1="350.2" y1="463.6" x2="374.5" y2="463.6" stroke="#E19C24" stroke-width="1.4"/>
<line x1="350.2" y1="492.7" x2="374.5" y2="492.7" stroke="#000" stroke-width="1.4"/>
<text transform="translate(382.08,441.20) scale(1.058,1)" font-size="21.5">U</text>
<text transform="translate(403.80,432.70) scale(0.975,1)" font-size="14.5">4+</text>
<text transform="translate(382.42,469.70) scale(1.042,1)" font-size="21.5">U</text>
<text transform="translate(404.40,461.50) scale(1.100,1)" font-size="14.5">6+</text>
<text transform="translate(382.07,498.50) scale(1.067,1)" font-size="21.5">U</text>
<text transform="translate(404.00,490.50) scale(0.938,1)" font-size="14.5">4+</text>
<text transform="translate(423.30,500.00) scale(0.817,1)" font-size="21.5">–</text>
<text transform="translate(432.55,498.50) scale(1.025,1)" font-size="21.5">U</text>
<text transform="translate(455.87,490.50) scale(1.027,1)" font-size="14.5">6+</text>
</svg></body></html>
